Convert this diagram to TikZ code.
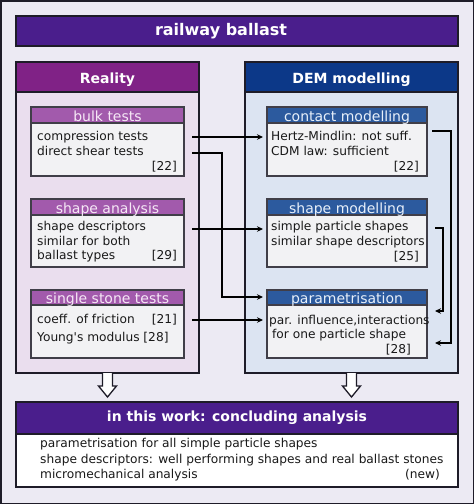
\documentclass[tikz,border=0pt]{standalone}
\usepackage{fontspec}
\setmainfont{DejaVu Sans}[Ligatures=TeXOff]
\usetikzlibrary{arrows.meta}
\definecolor{bgc}{RGB}{236,234,243}
\definecolor{titlec}{RGB}{74,30,140}
\definecolor{realhd}{RGB}{128,34,134}
\definecolor{realbody}{RGB}{234,222,238}
\definecolor{realsubhd}{RGB}{162,90,172}
\definecolor{demhd}{RGB}{12,56,136}
\definecolor{dembody}{RGB}{220,228,242}
\definecolor{demsubhd}{RGB}{44,90,158}
\definecolor{subbody}{RGB}{242,242,244}
\definecolor{linec}{RGB}{30,28,40}
\definecolor{hdtxtL}{RGB}{246,232,246}
\definecolor{hdtxtR}{RGB}{232,240,250}
\begin{document}
\begin{tikzpicture}[x=1pt,y=-1pt,
  boxn/.style={anchor=north west, rectangle, inner sep=0pt, outer sep=0pt, draw=linec, line width=1.4pt},
  brd/.style={draw=linec, line width=1.4pt},
  sbrd/.style={draw=linec!85, line width=1.1pt},
  bigtitle/.style={anchor=base, text=white, font=\fontsize{16}{18}\selectfont\bfseries, inner sep=0pt},
  boldhd/.style={anchor=base, text=white, font=\fontsize{14}{16}\selectfont\bfseries, inner sep=0pt},
  subhdL/.style={anchor=base, text=hdtxtL, font=\fontsize{14}{16}\selectfont, inner sep=0pt},
  subhdR/.style={anchor=base, text=hdtxtR, font=\fontsize{14}{16}\selectfont, inner sep=0pt},
  txt/.style={anchor=base west, font=\fontsize{12.2}{14}\selectfont, inner sep=0pt, text=black!90},
  rtxt/.style={anchor=base east, font=\fontsize{12.2}{14}\selectfont, inner sep=0pt, text=black!90},
  conn/.style={draw=black, line width=1.6pt, -{Stealth[length=6pt,width=5.5pt]}},
  hollow/.style={draw=linec, line width=1.3pt, fill=white, line join=miter}
]
\useasboundingbox (0,0) rectangle (474,504);
% outer frame
\fill[bgc] (0,0) rectangle (474,504);
\draw[linec, line width=1.5pt] (0.75,0.75) rectangle (473.25,503.25);

% title
\node[boxn, fill=titlec, minimum width=442pt, minimum height=30pt] (title) at (16,16) {};
\node[bigtitle] (titletxt) at (221,35) {railway ballast};

% Reality box
\node[boxn, fill=realbody, minimum width=183pt, minimum height=311pt] (reality) at (16,62) {};
\fill[realhd] (16,62) rectangle (199,92);
\draw[brd] (16,62) rectangle (199,373);
\draw[brd] (16,92) -- (199,92);
\node[boldhd] (realtxt) at (107.5,83) {Reality};

% DEM box
\node[boxn, fill=dembody, minimum width=213pt, minimum height=311pt] (dem) at (245,62) {};
\fill[demhd] (245,62) rectangle (458,92);
\draw[brd] (245,62) rectangle (458,373);
\draw[brd] (245,92) -- (458,92);
\node[boldhd] (demtxt) at (351.5,83) {DEM modelling};

% ---- left sub boxes
\node[boxn, sbrd, fill=subbody, minimum width=153pt, minimum height=69pt] (bulk) at (31,107) {};
\fill[realsubhd] (31,107) rectangle (184,123);
\draw[sbrd] (31,107) rectangle (184,176); \draw[sbrd] (31,123) -- (184,123);
\node[subhdL] (bulkh) at (107.5,121.5) {bulk tests};
\node[txt] (b1) at (37,140) {compression tests};
\node[txt] (b2) at (37,155) {direct shear tests};
\node[rtxt] (b3) at (177,170) {[22]};

\node[boxn, sbrd, fill=subbody, minimum width=153pt, minimum height=68pt] (shapean) at (31,199) {};
\fill[realsubhd] (31,199) rectangle (184,215);
\draw[sbrd] (31,199) rectangle (184,267); \draw[sbrd] (31,215) -- (184,215);
\node[subhdL] (shapeanh) at (107.5,213.5) {shape analysis};
\node[txt] (s1) at (37,230) {shape descriptors};
\node[txt] (s2) at (37,245) {similar for both};
\node[txt] (s3) at (37,259.5) {ballast types};
\node[rtxt] (s4) at (177,259.5) {[29]};

\node[boxn, sbrd, fill=subbody, minimum width=153pt, minimum height=68pt] (single) at (31,290) {};
\fill[realsubhd] (31,290) rectangle (184,305);
\draw[sbrd] (31,290) rectangle (184,358); \draw[sbrd] (31,305) -- (184,305);
\node[subhdL] (singleh) at (107.5,303.5) {single stone tests};
\node[txt] (t1) at (37,323) {coeff. of friction};
\node[rtxt] (t2) at (177,323) {[21]};
\node[txt] (t3) at (37,341) {Young's modulus [28]};

% ---- right sub boxes
\node[boxn, sbrd, fill=subbody, minimum width=160pt, minimum height=69pt] (contact) at (267,107) {};
\fill[demsubhd] (267,107) rectangle (427,123);
\draw[sbrd] (267,107) rectangle (427,176); \draw[sbrd] (267,123) -- (427,123);
\node[subhdR] (contacth) at (347,121.5) {contact modelling};
\node[txt] (c1) at (271,140.5) {Hertz-Mindlin: not suff.};
\node[txt] (c2) at (271,155) {CDM law: sufficient};
\node[rtxt] (c3) at (419,170) {[22]};

\node[boxn, sbrd, fill=subbody, minimum width=160pt, minimum height=68pt] (shapemod) at (267,199) {};
\fill[demsubhd] (267,199) rectangle (427,215);
\draw[sbrd] (267,199) rectangle (427,267); \draw[sbrd] (267,215) -- (427,215);
\node[subhdR] (shapemodh) at (347,213.5) {shape modelling};
\node[txt] (m1) at (271,230) {simple particle shapes};
\node[txt] (m2) at (271,245) {similar shape descriptors};
\node[rtxt] (m3) at (419,260) {[25]};

\node[boxn, sbrd, fill=subbody, minimum width=160pt, minimum height=68pt] (param) at (267,290) {};
\fill[demsubhd] (267,290) rectangle (427,305);
\draw[sbrd] (267,290) rectangle (427,358); \draw[sbrd] (267,305) -- (427,305);
\node[subhdR] (paramh) at (347,303.5) {parametrisation};
\node[txt] (p1) at (269,324) {par. influence,interactions};
\node[txt] (p2) at (272,338) {for one particle shape};
\node[rtxt] (p3) at (411,353) {[28]};

% ---- bottom box
\node[boxn, fill=white, minimum width=442pt, minimum height=85pt] (bottom) at (16,402) {};
\fill[titlec] (16,402) rectangle (458,434);
\draw[brd] (16,402) rectangle (458,487);
\draw[brd] (16,434) -- (458,434);
\node[boldhd] (bottomh) at (237,421) {in this work: concluding analysis};
\node[txt] (w1) at (40,447) {parametrisation for all simple particle shapes};
\node[txt] (w2) at (40,463) {shape descriptors: well performing shapes and real ballast stones};
\node[txt] (w3) at (40,478) {micromechanical analysis};
\node[rtxt] (w4) at (440,478) {(new)};

% ---- connectors left -> right
\coordinate (k1) at (192,137);
\coordinate (k2) at (192,153);
\coordinate (k3) at (192,229);
\coordinate (k4) at (192,320);
\draw[conn, shorten >=4pt] (k1) -- (k1 -| contact.west);
\draw[conn, shorten >=4pt] (k2) -- (222,153) -- (222,297) -- (param.west |- 0,297);
\draw[conn, shorten >=4pt] (k3) -- (k3 -| shapemod.west);
\draw[conn, shorten >=4pt] (k4) -- (k4 -| param.west);

% ---- connectors on the right
\coordinate (r1) at (432,131);
\coordinate (r2) at (435,228);
\draw[conn, shorten >=8pt] (r1) -- (451,131) -- (451,343) -- (param.east |- 0,343);
\draw[conn, shorten >=8pt] (r2) -- (443,228) -- (443,311) -- (param.east |- 0,311);

% ---- hollow arrows
\draw[hollow] ([xshift=-5pt]reality.south) -- ++(0,13) -- ++(-4,0) -- ++(9,11) -- ++(9,-11) -- ++(-4,0) -- ++(0,-13);
\draw[hollow] ([xshift=-5pt]dem.south) -- ++(0,13) -- ++(-4,0) -- ++(9,11) -- ++(9,-11) -- ++(-4,0) -- ++(0,-13);
\end{tikzpicture}
\end{document}
